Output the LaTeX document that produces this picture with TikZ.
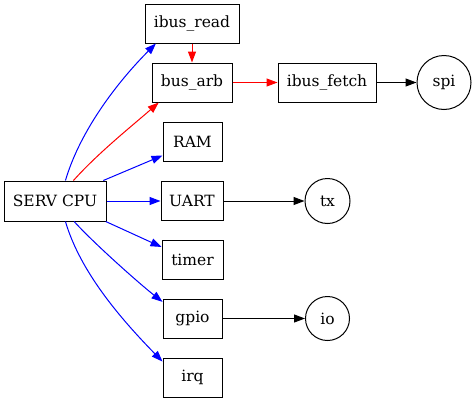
\documentclass[tikz,border=0pt]{standalone}
\usepackage{fontspec}
\setmainfont{DejaVu Serif}
\usetikzlibrary{arrows.meta}
\begin{document}
\begin{tikzpicture}[x=1pt,y=-1pt,
  box/.style={draw, line width=1pt, minimum height=39pt, inner sep=0pt, font=\fontsize{15.5}{18}\selectfont},
  circ/.style={draw, circle, line width=1pt, inner sep=0pt, font=\fontsize{15.5}{18}\selectfont},
  edge/.style={line width=1pt, -{Triangle[length=11pt,width=8pt]}}]
\useasboundingbox (0,0) rectangle (474,402);
\node[box, minimum width=94pt] (ibusread) at (192,23.5) {ibus\_read};
\node[box, minimum width=80pt] (busarb) at (192,82.5) {bus\_arb};
\node[box, minimum width=59pt] (ram) at (192.5,141.5) {RAM};
\node[box, minimum width=102pt, minimum height=40pt] (cpu) at (55,201) {SERV CPU};
\node[box, minimum width=62pt] (uart) at (192,201) {UART};
\node[box, minimum width=61pt] (timer) at (192.5,259.5) {timer};
\node[box, minimum width=59pt] (gpio) at (192.5,318.5) {gpio};
\node[box, minimum width=59pt] (irq) at (192.5,377.5) {irq};
\node[box, minimum width=98pt] (ibusfetch) at (327,82.5) {ibus\_fetch};
\node[circ, minimum size=54pt] (spi) at (444,82.5) {spi};
\node[circ, minimum size=45pt] (tx) at (327.5,201) {tx};
\node[circ, minimum size=44pt] (io) at (327.5,318.5) {io};

\draw[edge, blue] (cpu.63) .. controls +(15,-51) and +(-37,37) .. (ibusread.209);
\draw[edge, red] (cpu.48) .. controls +(25,-28) and +(-25,22) .. (busarb.211);
\draw[edge, blue] (cpu.23) -- (ram.205);
\draw[edge, blue] (cpu) -- (uart);
\draw[edge, blue] (cpu.-22) -- (timer.158);
\draw[edge, blue] (cpu.-47) .. controls +(20,22) and +(-24,-19) .. (gpio.151);
\draw[edge, blue] (cpu.-63) .. controls +(15,51) and +(-41,-42) .. (irq.152);
\draw[edge, red] (ibusread) -- (busarb);
\draw[edge, red] (busarb) -- (ibusfetch);
\draw[edge] (ibusfetch) -- (spi);
\draw[edge] (uart) -- (tx);
\draw[edge] (gpio) -- (io);
\end{tikzpicture}
\end{document}
